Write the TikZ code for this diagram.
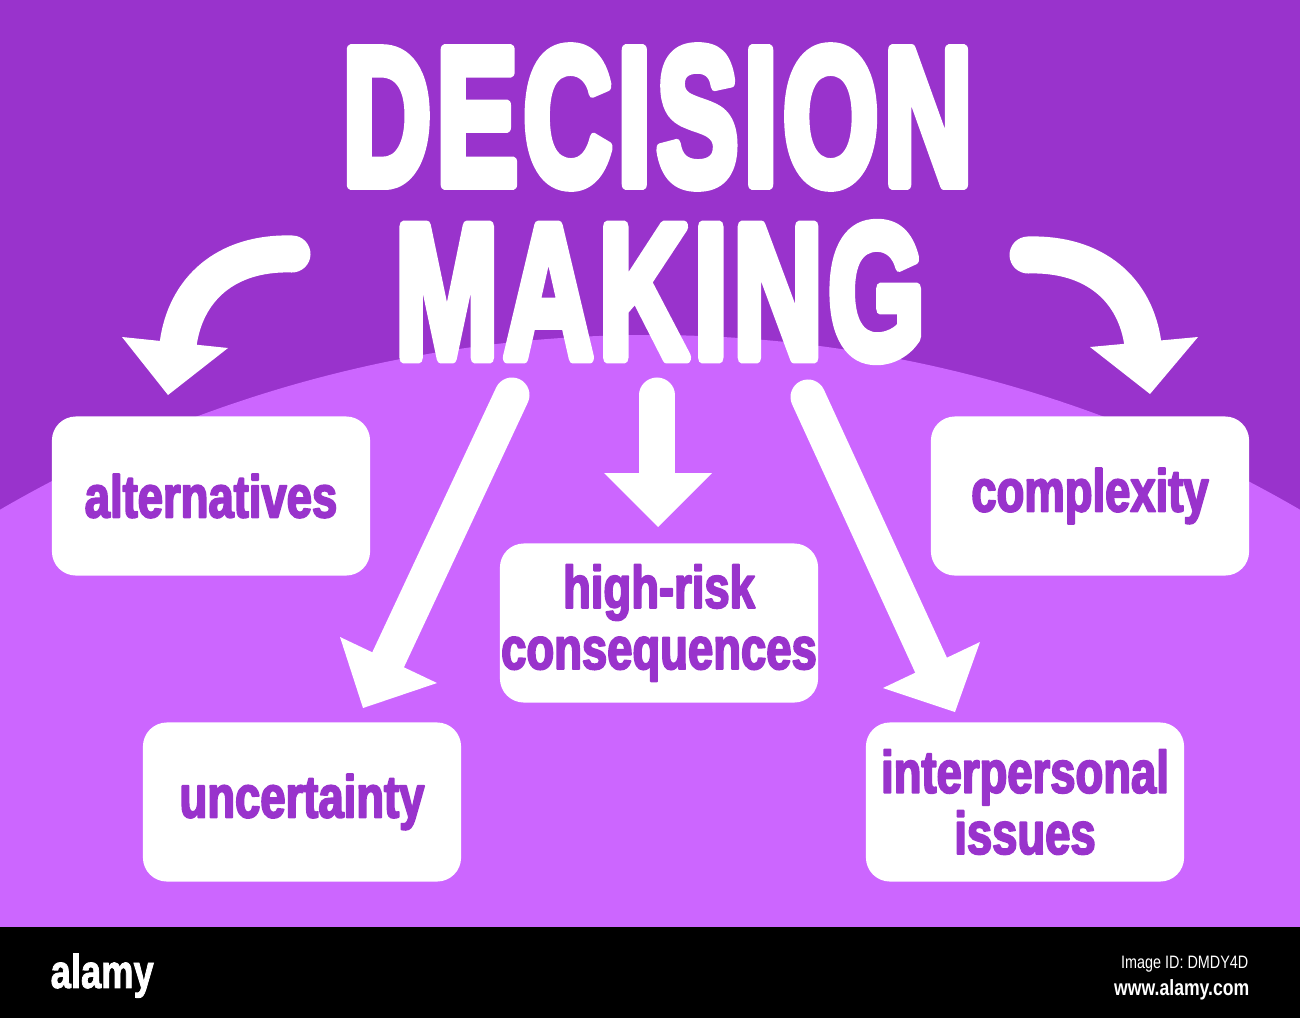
\documentclass[tikz,border=0pt]{standalone}
\usepackage{fontspec}
\setmainfont{Liberation Sans}
\newfontfamily\titlefont{Liberation Sans}[BoldFeatures={FakeBold=6,LetterSpace=4}]
\newfontfamily\logofont{Liberation Sans}[BoldFeatures={FakeBold=2}]
\newfontfamily\boxfont{Liberation Sans}[FakeStretch=0.76,BoldFeatures={FakeBold=3}]
\newfontfamily\barfont{Liberation Sans}[FakeStretch=0.8]
\definecolor{darkpurple}{HTML}{9933CC}
\definecolor{lightpurple}{HTML}{CC66FF}
\definecolor{textpurple}{HTML}{9933CC}
\tikzset{
  topicbox/.style={fill=white, rounded corners=0.24cm, minimum width=3.18cm, minimum height=1.59cm,
    text=textpurple, align=center, inner sep=0pt,
    font=\boxfont\bfseries\fontsize{17}{17.4}\selectfont},
  shaft/.style={white, line width=0.35cm},
  headtip/.style={fill=white},
  titletext/.style={text=white, inner sep=0pt}
}
\begin{document}
\begin{tikzpicture}[x=0.01cm,y=-0.01cm]
\useasboundingbox (0,0) rectangle (1300,1018);
% background
\fill[darkpurple] (0,0) rectangle (1300,927);
\begin{scope}
  \clip (0,0) rectangle (1300,927);
  \fill[lightpurple] (650,1630) circle[radius=1295];
\end{scope}
\fill[black] (0,927) rectangle (1300,1018);
% title
\begin{scope}[line join=round]
\node[titletext] (t1) at (657.5,117) {\resizebox{6.30cm}{1.36cm}{\titlefont\bfseries DECISION}};
\node[titletext] (t2) at (660,292) {\resizebox{5.30cm}{1.33cm}{\titlefont\bfseries MAKING}};
\end{scope}
% boxes
\begin{scope}[line join=round]
\node[topicbox] (alt) at (211,496) {alternatives};
\node[topicbox] (cpx) at (1090,496) {complexity};
\node[topicbox] (hrc) at (659,623) {high-risk\\consequences};
\node[topicbox] (unc) at (302,802) {uncertainty};
\node[topicbox] (ipi) at (1025,802) {interpersonal\\issues};
\end{scope}
% arrow coordinates
\coordinate (la0) at (292,254);
\coordinate (la1) at (178,345);
\coordinate (ra0) at (1028,255);
\coordinate (ra1) at (1143,345);
\coordinate (da0) at (512,395);
\coordinate (da1) at (388,660);
\coordinate (ca0) at (657,395);
\coordinate (ca1) at (657,480);
\coordinate (ea0) at (808,397);
\coordinate (ea1) at (931,665);
% left curved arrow
\draw[shaft, line width=0.37cm, line cap=round] (la0) .. controls (225,252) and (185,290) .. (la1);
\fill[headtip] (122,337) -- (228,348) -- (168,395) -- cycle;
% right curved arrow
\draw[shaft, line width=0.37cm, line cap=round] (ra0) .. controls (1095,253) and (1136,290) .. (ra1);
\fill[headtip] (1090,347) -- (1198,337) -- (1150,394) -- cycle;
% diagonal left
\draw[shaft, line cap=round] (da0) -- (da1);
\fill[headtip] (340,637) -- (437,683) -- (363,708) -- cycle;
% center
\draw[shaft, line cap=round] (ca0) -- (ca1);
\fill[headtip] (604,473) -- (712,473) -- (658,527) -- cycle;
% diagonal right
\draw[shaft, line cap=round] (ea0) -- (ea1);
\fill[headtip] (883,688) -- (980,642) -- (955,712) -- cycle;
% bottom bar
\node[text=white, inner sep=0pt, anchor=north west] (logo) at (50,953) {\resizebox*{1.03cm}{0.44cm}{\logofont\bfseries alamy}};
\node[text=white, inner sep=0pt, anchor=north east] (imgid) at (1249,955) {\resizebox{1.27cm}{!}{\barfont Image ID: DMDY4D}};
\node[text=white, inner sep=0pt, anchor=north east] (url) at (1250,979) {\resizebox{1.35cm}{!}{\barfont\bfseries www.alamy.com}};
\end{tikzpicture}
\end{document}
